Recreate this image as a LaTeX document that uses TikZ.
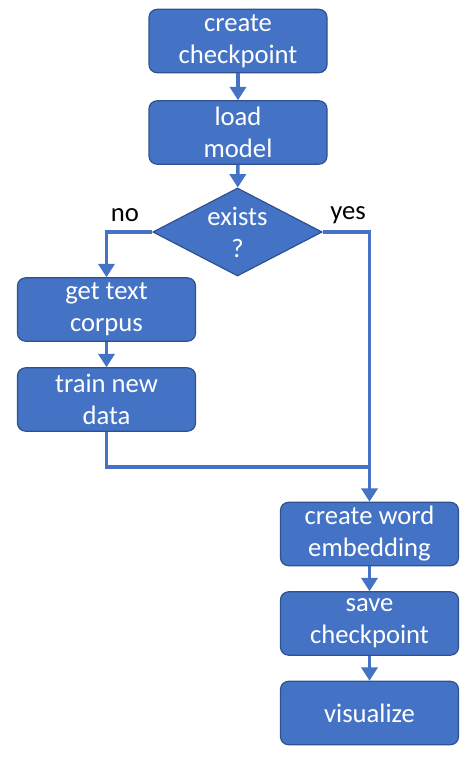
\documentclass[tikz,border=0pt]{standalone}
\usepackage{fontspec}
\setmainfont{Carlito}
\usetikzlibrary{shapes.geometric,arrows.meta}
\definecolor{boxfill}{HTML}{4472C4}
\definecolor{boxline}{HTML}{2F528F}
\tikzset{
  stepbox/.style={rectangle, rounded corners=6pt, fill=boxfill, draw=boxline, line width=0.9pt,
    minimum width=133.5pt, minimum height=47.5pt, inner sep=0pt, text=white, align=center,
    font=\fontsize{20}{24}\selectfont},
  decide/.style={diamond, fill=boxfill, draw=boxline, line width=0.9pt,
    minimum width=127pt, minimum height=66pt, inner sep=0pt},
  inner/.style={text=white, align=center, font=\fontsize{20}{24}\selectfont, inner sep=0pt},
  flow/.style={draw=boxfill, line width=2.6pt, -{Triangle[length=10pt,width=12pt]}},
  flowline/.style={draw=boxfill, line width=2.6pt},
  lbl/.style={text=black, font=\fontsize{20}{24}\selectfont, inner sep=0pt}
}
\begin{document}
\begin{tikzpicture}[x=0.75pt,y=-0.75pt]
\useasboundingbox (0,0) rectangle (474,757);
\node[stepbox] (cc) at (238,41) {create\\checkpoint};
\node[stepbox] (lm) at (238,132.5) {load\\model};
\node[decide, label={[inner]center:{exists\\?}}] (ex) at (237.5,232) {};
\node[stepbox] (gt) at (106.5,309.5) {get text\\corpus};
\node[stepbox] (tn) at (106.5,399.5) {train new\\data};
\node[stepbox] (cw) at (369.5,534) {create word\\embedding};
\node[stepbox] (sc) at (369.5,623.5) {save\\checkpoint};
\node[stepbox] (vi) at (369.5,713) {visualize};
\node[lbl] (no) at (125,215) {no};
\node[lbl] (yes) at (348,215) {yes};
\coordinate (j) at (369.5,467);
\draw[flow] (cc) -- (lm);
\draw[flow] (lm) -- (ex);
\draw[flow] (ex.west) -| (gt.north);
\draw[flow] (gt) -- (tn);
\draw[flowline] (tn.south) |- (j);
\draw[flow] (ex.east) -| (cw.north);
\draw[flow] (cw) -- (sc);
\draw[flow] (sc) -- (vi);
\end{tikzpicture}
\end{document}
